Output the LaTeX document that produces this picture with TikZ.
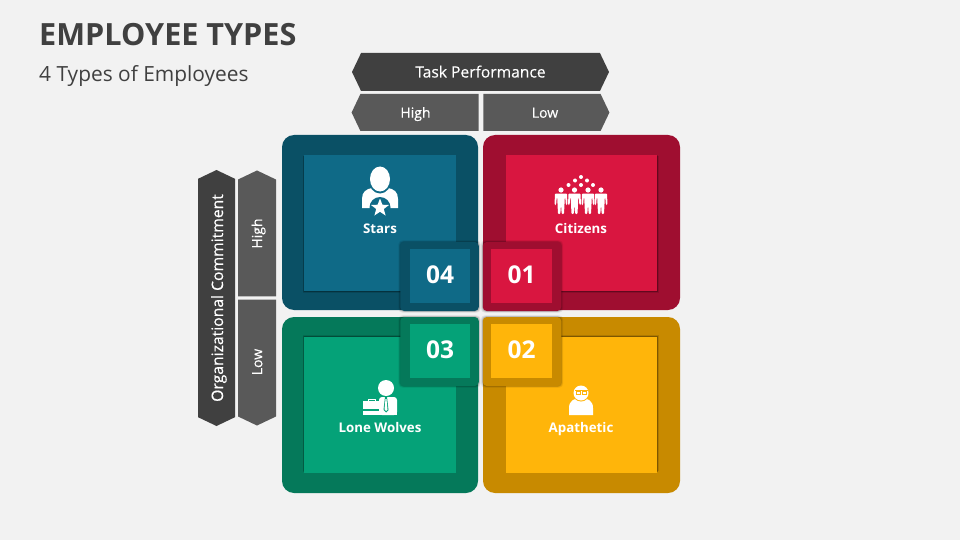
\documentclass[tikz,border=0pt]{standalone}
\usepackage{fontspec}
\setmainfont{Open Sans}
\usetikzlibrary{shapes,shapes.symbols,shadows,positioning}

\definecolor{pagebg}{HTML}{F2F2F2}
\definecolor{greyA}{HTML}{404040}
\definecolor{greyB}{HTML}{595959}
\definecolor{blueA}{HTML}{0A5065}
\definecolor{blueB}{HTML}{0F6A87}
\definecolor{redA}{HTML}{9F0E30}
\definecolor{redB}{HTML}{D91640}
\definecolor{greenA}{HTML}{05795A}
\definecolor{greenB}{HTML}{05A278}
\definecolor{goldA}{HTML}{C88A00}
\definecolor{goldB}{HTML}{FFB50A}

\newcommand{\fs}[1]{\fontsize{#1}{#1}\selectfont}
\newcommand{\semi}{\addfontfeature{FakeBold=0.35}}

\tikzset{
  softshadow/.style 2 args={
    drop shadow={shadow xshift=#1*1.5pt,shadow yshift=#2*1.5pt,opacity=.12,fill=black},
    drop shadow={shadow xshift=#1*1pt,shadow yshift=#2*1pt,opacity=.14,fill=black},
    drop shadow={shadow xshift=#1*.5pt,shadow yshift=#2*.5pt,opacity=.16,fill=black}},
  banner/.style={signal,signal pointer angle=129,inner sep=0pt,text=white,text height=10.4pt,text depth=0pt,font=\fs{14}\semi},
  quadouter/.style={rectangle,rounded corners=12pt,inner sep=0pt},
  quadinner/.style={rectangle,inner sep=0pt},
  badgeouter/.style={rectangle,rounded corners=4pt,inner sep=0pt,minimum width=78.5pt,minimum height=69pt,
    drop shadow={shadow xshift=0pt,shadow yshift=0pt,shadow scale=1.05,opacity=.07,fill=black},
    drop shadow={shadow xshift=0pt,shadow yshift=0pt,shadow scale=1.03,opacity=.09,fill=black},
    drop shadow={shadow xshift=0pt,shadow yshift=0pt,shadow scale=1.015,opacity=.11,fill=black}},
  badgeinner/.style={rectangle,inner sep=0pt,minimum width=60.5pt,minimum height=54pt,text depth=2pt,text=white,font=\fs{24.5}\bfseries},
  quadlabel/.style={anchor=base,text=white,font=\fs{13.3}\bfseries,inner sep=0pt}
}

\begin{document}
\begin{tikzpicture}[x=1pt,y=-1pt]
    \useasboundingbox[fill=pagebg] (0,0) rectangle (960,540);

    % heading
    \node (title) [anchor=base west,inner sep=0pt,text=greyA,font=\fs{30.6}\bfseries] at (39,46) {EMPLOYEE TYPES};
    \node (subtitle) [anchor=base west,inner sep=0pt,text=greyA,font=\fs{20.9}] at (39,81.5) {4 Types of Employees};

    % top banners
    \node (task) [banner,signal to=east and west,fill=greyA,minimum width=257pt,minimum height=38pt,text height=11pt,font=\fs{15.6}\semi] at (480.5,72) {Task Performance};
    \node (taskhigh) [banner,signal to=west,fill=greyB,minimum width=127pt,minimum height=37pt] at (419.5,112.5) {\hspace*{-8pt}High};
    \node (tasklow) [banner,signal to=east,fill=greyB,minimum width=126pt,minimum height=37pt] at (542,112.5) {\hspace*{6pt}Low};

    % left banners
    \node (org) [banner,rotate=90,signal to=east and west,fill=greyA,minimum width=256pt,minimum height=37pt,text height=13pt,font=\fs{15.7}\semi] at (216.5,298) {Organizational Commitment};
    \node (orghigh) [banner,rotate=90,signal to=east,fill=greyB,minimum width=126pt,minimum height=38pt] at (257,238) {\hspace*{9pt}High};
    \node (orglow) [banner,rotate=90,signal to=west,fill=greyB,minimum width=126pt,minimum height=38pt] at (257,358) {\hspace*{-8pt}Low};

    % quadrants
    \foreach \q/\cx/\cy/\w/\h/\ix/\iy/\iw/\dark/\light/\sx/\sy in {
        stars/380/222.5/196/175/380/223/152/blueA/blueB/-1/-1,
        citizens/581.5/222.5/197/175/581.5/223/151/redA/redB/1/-1,
        wolves/380/405/196/176/380/405/152/greenA/greenB/-1/1.5,
        apathetic/581.5/405/197/176/581.5/405/151/goldA/goldB/1/1.5} {
        \node (\q outer) [quadouter,fill=\dark,minimum width=\w pt,minimum height=\h pt] at (\cx,\cy) {};
        \node (\q inner) [quadinner,fill=\light,minimum width=\iw pt,minimum height=136pt,softshadow={\sx}{\sy}] at (\ix,\iy) {};
    }

    % stars icon
    \fill[white] (362,208) -- (362,199) .. controls (362,192) and (366,189) .. (372,188) -- (388,188) .. controls (394,189) and (398,192) .. (398,199) -- (398,208) -- cycle;
    \fill[blueB] (380,179.5) ellipse (11.5 and 14);
    \fill[white] (380,179) ellipse (10 and 12.5);
    \fill[blueB] (380,207.5) circle (10.5);
    \fill[white] (380,198.5) -- (382.4,204.7) -- (389,205) -- (383.8,209) -- (385.6,215.5) -- (380,211.8) -- (374.4,215.5) -- (376.2,209) -- (371,205) -- (377.6,204.7) -- cycle;
    \node (starslabel) [quadlabel] at (380,233) {Stars};

    % citizens icon
    \foreach \px in {561,574.5,588,601} {
        \fill[white] (\px,190) circle (2.6);
        \fill[white,rounded corners=1pt] (\px-6,193.5) -- (\px+6,193.5) -- (\px+6.5,205) -- (\px+4.9,205) -- (\px+4.3,197.5) -- (\px+3.8,197.5) -- (\px+3,214) -- (\px+.7,214) -- (\px,204) -- (\px-.7,214) -- (\px-3,214) -- (\px-3.8,197.5) -- (\px-4.3,197.5) -- (\px-4.9,205) -- (\px-6.5,205) -- cycle;
    }
    \foreach \dx/\dy in {581/177,575/180.5,587/180.5,568.5/185,581/185,593/185}
        \fill[white] (\dx,\dy) circle (2);
    \node (citizenslabel) [quadlabel] at (581,233) {Citizens};

    % lone wolves icon
    \fill[white] (386,388) circle (8);
    \fill[white,rounded corners=3pt] (379,415) -- (379,397) -- (397,397) -- (397,415) -- cycle;
    \fill[white] (379,405) rectangle (397,415);
    \fill[greenB] (385,397) -- (387,397) -- (388.5,410) -- (386,412.5) -- (383.5,410) -- cycle;
    \fill[white] (385.5,399) -- (386.5,399) -- (387.5,409.5) -- (386,411) -- (384.5,409.5) -- cycle;
    \draw[white,line width=1pt] (368,401) -- (368,399.5) -- (375,399.5) -- (375,401);
    \fill[white] (363,401) rectangle (378.5,409);
    \fill[white] (363,410.5) rectangle (378.5,415);
    \node (wolveslabel) [quadlabel] at (380,432.5) {Lone Wolves};

    % apathetic icon
    \fill[white] (569,415) -- (569,408) .. controls (569,401) and (574,398) .. (581,398) .. controls (588,398) and (593,401) .. (593,408) -- (593,415) -- cycle;
    \fill[goldB] (581,393) circle (8.5);
    \fill[white] (581,393) circle (7.5);
    \fill[goldB] (574.5,389.5) rectangle (587.5,390.5);
    \draw[goldB,line width=.7pt] (576,391) rectangle (580,394) (582,391) rectangle (586,394);
    \node (apatheticlabel) [quadlabel] at (581,432.5) {Apathetic};

    % badges
    \foreach \b/\bx/\by/\ix/\iy/\dark/\light in {
        04/439.5/276.5/440/276/blueA/blueB,
        01/522/276.5/521.5/276/redA/redB,
        03/439.5/351.5/440/351/greenA/greenB,
        02/522/351.5/521.5/351/goldA/goldB} {
        \node (badge\b) [badgeouter,fill=\dark] at (\bx,\by) {};
        \node (num\b) [badgeinner,fill=\light] at (\ix,\iy) {\b};
    }
\end{tikzpicture}
\end{document}
